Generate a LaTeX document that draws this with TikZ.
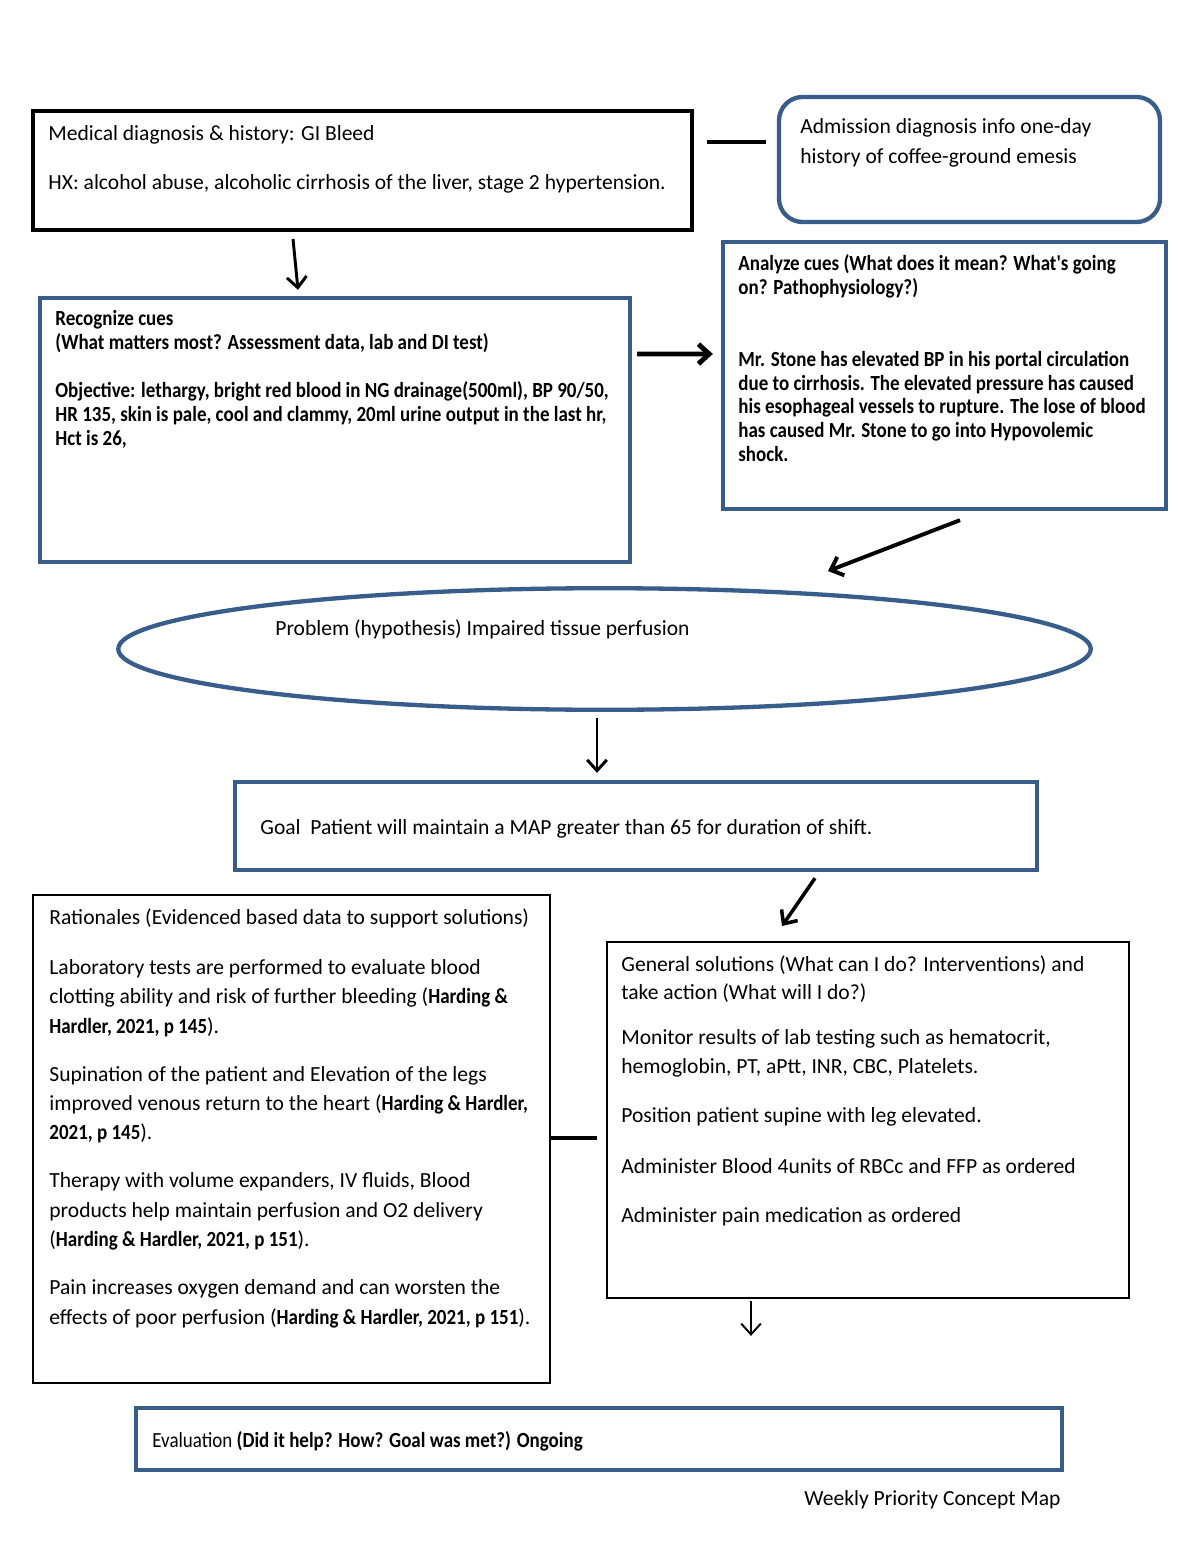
\documentclass[tikz,border=0pt]{standalone}
\usepackage{fontspec}
\setmainfont{Carlito}
\newfontfamily\narrowfont[FakeStretch=0.88]{Carlito}
\usetikzlibrary{arrows.meta,calc,fit,shapes.geometric}
\definecolor{shapeblue}{HTML}{385D8A}

\begin{document}
\begin{tikzpicture}[x=0.51pt, y=-0.51pt,
  blackbox/.style={draw=black, line width=2pt, inner sep=0pt},
  bluebox/.style={draw=shapeblue, line width=2.2pt, inner sep=0pt},
  thinbox/.style={draw=black, line width=1pt, inner sep=0pt},
  txt/.style={anchor=north west, inner sep=0pt, align=left},
  arr/.style={-{Straight Barb[length=5.5pt,width=10pt]}, line width=1.5pt}]
	\useasboundingbox[fill=white] (0,0) rectangle (1200,1553);

	\node[blackbox, fit={(33,111) (692,230)}] (med) {};
	\node[bluebox, rounded corners=12pt, fit={(779,97) (1160,222)}] (adm) {};
	\node[bluebox, fit={(40,298) (630,562)}] (rec) {};
	\node[bluebox, fit={(723,242) (1166,509)}] (ana) {};
	\node[ellipse, draw=shapeblue, line width=2.2pt, inner sep=0pt,
		minimum width=496pt, minimum height=62pt] (prob) at (604.5,649) {};
	\node[bluebox, fit={(235,782) (1037,870)}] (goal) {};
	\node[thinbox, fit={(33,895) (550,1383)}] (rat) {};
	\node[thinbox, fit={(607,942) (1129,1298)}] (gen) {};
	\node[bluebox, fit={(136,1408) (1062,1470)}] (eval) {};

	\node[txt, font=\fontsize{11}{25}\selectfont] (medtxt) at (48,125)
		{Medical diagnosis \& history: GI Bleed\\
		HX: alcohol abuse, alcoholic cirrhosis of the liver, stage 2 hypertension.};
	\node[txt, font=\fontsize{11}{15.3}\selectfont] (admtxt) at (800,118)
		{Admission diagnosis info one-day\\
		history of coffee-ground emesis};
	\node[txt, font=\fontsize{11}{12.2}\narrowfont\bfseries] (rectxt) at (55,310)
		{Recognize cues\\
		(What matters most? Assessment data, lab and DI test)\\[12.2pt]
		Objective: lethargy, bright red blood in NG drainage(500ml), BP 90/50,\\
		HR 135, skin is pale, cool and clammy, 20ml urine output in the last hr,\\
		Hct is 26,};
	\node[txt, font=\fontsize{11}{12.2}\narrowfont\bfseries] (anatxt) at (738,254)
		{Analyze cues (What does it mean? What's going\\
		on? Pathophysiology?)\\[24.4pt]
		Mr. Stone has elevated BP in his portal circulation\\
		due to cirrhosis. The elevated pressure has caused\\
		his esophageal vessels to rupture. The lose of blood\\
		has caused Mr. Stone to go into Hypovolemic\\
		shock.};
	\node[txt, font=\fontsize{11}{13}\selectfont] (probtxt) at (275,619)
		{Problem (hypothesis) Impaired tissue perfusion};
	\node[txt, font=\fontsize{11}{13}\selectfont] (goaltxt) at (260,819)
		{Goal\ \ Patient will maintain a MAP greater than 65 for duration of shift.};
	\node[txt, font=\fontsize{11}{15}\selectfont] (rattxt) at (49,908)
		{Rationales (Evidenced based data to support solutions)\\[10.5pt]
		Laboratory tests are performed to evaluate blood\\
		clotting ability and risk of further bleeding ({\narrowfont\bfseries Harding \&}\\
		{\narrowfont\bfseries Hardler, 2021, p 145}).\\[9.5pt]
		Supination of the patient and Elevation of the legs\\
		improved venous return to the heart ({\narrowfont\bfseries Harding \& Hardler,}\\
		{\narrowfont\bfseries 2021, p 145}).\\[9.5pt]
		Therapy with volume expanders, IV fluids, Blood\\
		products help maintain perfusion and O2 delivery\\
		({\narrowfont\bfseries Harding \& Hardler, 2021, p 151}).\\[9.5pt]
		Pain increases oxygen demand and can worsten the\\
		effects of poor perfusion ({\narrowfont\bfseries Harding \& Hardler, 2021, p 151}).};
	\node[txt, font=\fontsize{11}{14.2}\selectfont] (gentxt) at (621,955)
		{General solutions (What can I do? Interventions) and\\
		take action (What will I do?)\\[9pt]
		Monitor results of lab testing such as hematocrit,\\[0.5pt]
		hemoglobin, PT, aPtt, INR, CBC, Platelets.\\[10.8pt]
		Position patient supine with leg elevated.\\[12pt]
		Administer Blood 4units of RBCc and FFP as ordered\\[10.8pt]
		Administer pain medication as ordered};
	\node[txt, font=\fontsize{11}{13}\narrowfont] (evaltxt) at (152,1431)
		{Evaluation {\bfseries(Did it help? How? Goal was met?) Ongoing}};
	\node[txt, font=\fontsize{11}{13}\selectfont] (title) at (804,1490)
		{Weekly Priority Concept Map};

	\draw[line width=2.5pt] ($(med.east)+(13,-28.5)$) -- ($(adm.west)+(-11,-17.5)$);
	\draw[arr] ($(med.south)+(-69.5,7)$) -- ($(rec.north)+(-37,-6)$);
	\draw[arr, line width=2.5pt] ($(rec.east)+(5,-76)$) -- ($(ana.west)+(-8,-21.5)$);
	\draw[arr, line width=2pt] ($(ana.south)+(15.5,9)$) -- ($(prob.north)+(223.5,-15)$);
	\draw[arr] ($(prob.south)+(-7.5,6)$) -- ($(goal.north)+(-39,-7)$);
	\draw[arr, line width=1.8pt] ($(goal.south)+(179,6)$) -- ($(gen.north)+(-86,-15)$);
	\draw[line width=2pt] ($(rat.east)+(0,-1)$) -- ($(gen.west)+(-9,18)$);
	\draw[arr, line width=1pt] ($(gen.south)+(-117,2)$) -- ($(eval.north)+(152,-70)$);
\end{tikzpicture}
\end{document}
